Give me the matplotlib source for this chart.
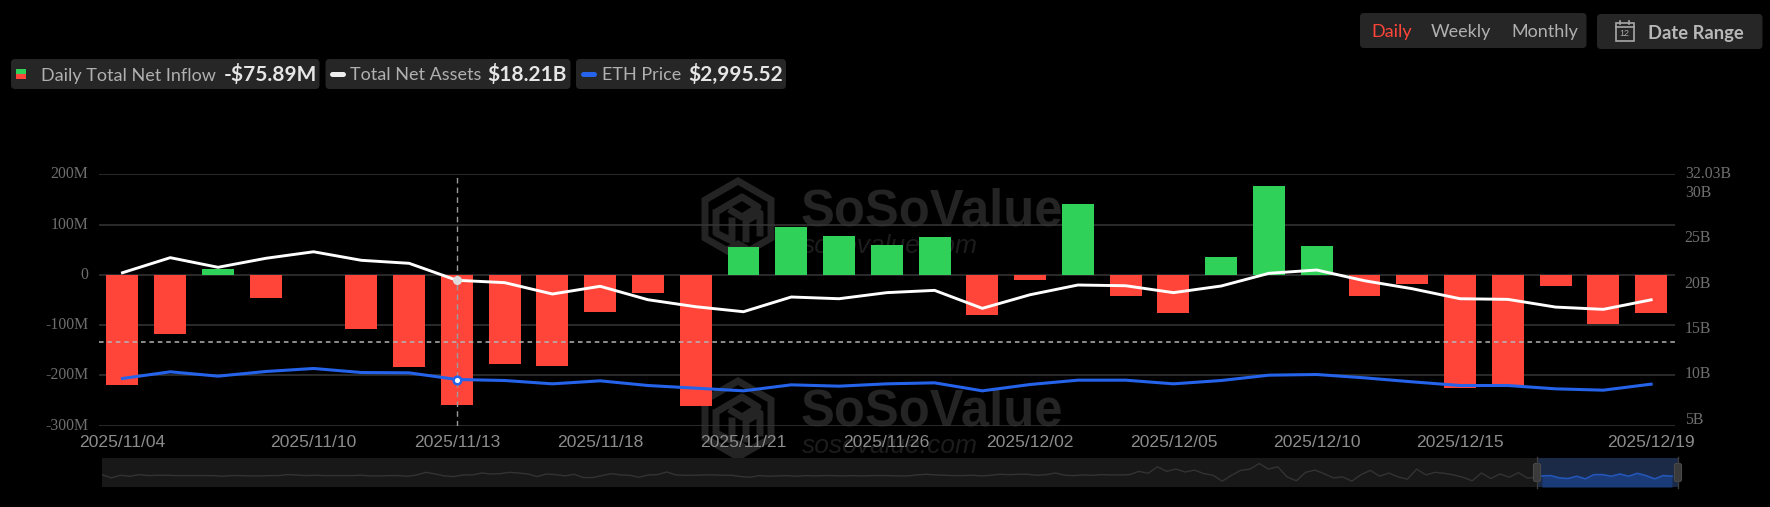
import numpy as np
import matplotlib
matplotlib.use('Agg')
import matplotlib.pyplot as plt
from matplotlib.patches import FancyBboxPatch, Polygon, Rectangle
from matplotlib.transforms import ScaledTranslation

W, H = 1770, 507

# bars in $M, one per trading day
dates = ["2025/11/04", "2025/11/05", "2025/11/06", "2025/11/07", "2025/11/10", "2025/11/11", "2025/11/12",
         "2025/11/13", "2025/11/14", "2025/11/17", "2025/11/18", "2025/11/19", "2025/11/20", "2025/11/21",
         "2025/11/24", "2025/11/25", "2025/11/26", "2025/11/28", "2025/12/01", "2025/12/02", "2025/12/03",
         "2025/12/04", "2025/12/05", "2025/12/08", "2025/12/09", "2025/12/10", "2025/12/11", "2025/12/12",
         "2025/12/15", "2025/12/16", "2025/12/17", "2025/12/18", "2025/12/19"]
net_inflow = [-219, -118, 12, -46, 0, -107, -183.5, -259, -177.6, -182, -74, -37, -261, 55.7, 96, 78, 60, 76,
              -79, -10, 140, -42, -75, 35, 177, 57, -42.4, -19, -225, -223, -22.5, -97, -75.89]
# Total Net Assets in $B
net_assets = [21.19, 22.85, 21.79, 22.78, 23.5, 22.56, 22.23, 20.36, 20.1, 18.85, 19.7, 18.22, 17.45, 16.9,
              18.52, 18.33, 19.0, 19.25, 17.27, 18.77, 19.84, 19.76, 19.0, 19.73, 21.13, 21.49, 20.31, 19.43,
              18.33, 18.26, 17.41, 17.16, 18.21]
eth_price = [3200, 3440, 3284, 3451, 3560, 3415, 3403, 3163, 3127, 3007, 3115, 2947, 2851, 2755, 2971, 2923,
             3007, 3043, 2755, 2983, 3139, 3139, 3007, 3127, 3319, 3343, 3223, 3079, 2947, 2947, 2827, 2779,
             2995.52]

left_ticks = [200, 100, 0, -100, -200, -300]
left_labels = ["200M", "100M", "0", "-100M", "-200M", "-300M"]
right_ticks = [32.03, 30, 25, 20, 15, 10, 5]
right_labels = ["32.03B", "30B", "25B", "20B", "15B", "10B", "5B"]
shown_dates = ["2025/11/04", "2025/11/10", "2025/11/13", "2025/11/18", "2025/11/21", "2025/11/26",
               "2025/12/02", "2025/12/05", "2025/12/10", "2025/12/15", "2025/12/19"]
hover_date = "2025/11/13"
hover_level = -134

# overview strip under the chart
overview_gray = [38, 28, 36, 33, 38, 35, 36, 36, 35, 35, 35, 35, 35, 33, 35, 35, 34, 34, 35, 35, 38, 37, 35, 36,
                 35, 35, 35, 35, 36, 34, 34, 35, 35, 33, 37, 45, 40, 34, 32, 37, 37, 43, 40, 41, 45, 43, 40, 32,
                 40, 38, 34, 39, 29, 29, 35, 41, 37, 36, 30, 37, 38, 46, 37, 36, 36, 37, 37, 36, 36, 32, 30, 35,
                 33, 34, 35, 33, 35, 34, 35, 35, 34, 35, 34, 35, 35, 35, 34, 34, 37, 39, 37, 36, 35, 35, 36, 34,
                 36, 39, 38, 39, 39, 36, 38, 43, 36, 35, 37, 36, 38, 37, 37, 38, 48, 42, 62, 48, 55, 46, 52, 41,
                 36, 18, 36, 51, 55, 72, 55, 62, 31, 19, 45, 52, 41, 28, 31, 18, 38, 51, 33, 43, 31, 24, 55, 37,
                 45, 42, 37, 30, 19, 43, 26, 40, 30, 44, 27, 31]
overview_blue = [34, 35, 28, 26, 33, 25, 38, 38, 33, 40, 33, 42, 35, 25, 35, 33]

# colours
BG = "#000000"
CHIP = "#262626"
RED = "#FF4539"
GREEN = "#30D158"
WHITE = "#FFFFFF"
BLUE = "#2563EB"
GRID = "#363636"
MARK = "#242424"

plt.rcParams['font.family'] = ['Lato', 'DejaVu Sans']

fig = plt.figure(figsize=(W / 100, H / 100), dpi=100, facecolor=BG)


def box(x0, y0, x1, y1):
    return [x0 / W, 1 - y1 / H, (x1 - x0) / W, (y1 - y0) / H]


# page layer in pixels for the chips, header text and watermark
page = fig.add_axes([0, 0, 1, 1], zorder=0)
page.set_xlim(0, W)
page.set_ylim(H, 0)
page.axis('off')


def chip(x0, y0, x1, y1, color=CHIP, rad=4):
    page.add_patch(FancyBboxPatch((x0 + rad, y0 + rad), x1 - x0 - 2 * rad, y1 - y0 - 2 * rad,
                                  boxstyle="round,pad=%d,rounding_size=%d" % (rad, rad), fc=color, ec='none'))


def label(x, y, s, color="#B0B0B0", size=13, weight='normal', ha='left'):
    page.text(x, y, s, color=color, fontsize=size, fontweight=weight, ha=ha, va='baseline',
              family=['Lato', 'DejaVu Sans'])


chip(11, 59, 319.5, 89)
chip(325.5, 59, 570.5, 89)
chip(576, 59, 786, 89)
chip(1360, 13, 1586.5, 48)
chip(1597, 14, 1762.5, 49)

page.add_patch(Rectangle((16.4, 69.3), 10, 4.7, fc=GREEN, ec='none'))
page.add_patch(Rectangle((16.4, 74), 10, 5, fc=RED, ec='none'))
page.plot([332, 342.5], [73.5, 73.5], color="#EEEEEE", lw=3.6, solid_capstyle='round')
page.plot([583, 593.5], [73.5, 73.5], color=BLUE, lw=3.6, solid_capstyle='round')

label(41, 80.5, "Daily Total Net Inflow")
label(223.5, 81, "-$75.89M", color="#E6E6E6", size=15, weight='bold')
label(350.5, 80.5, "Total Net Assets")
label(487.5, 81, "$18.21B", color="#E6E6E6", size=15, weight='bold')
label(601.5, 80.5, "ETH Price")
label(688.5, 81, "$2,995.52", color="#E6E6E6", size=15, weight='bold')
label(1371.5, 37.5, "Daily", color=RED)
label(1430.5, 37.5, "Weekly")
label(1511.5, 37.5, "Monthly")
label(1648, 38.5, "Date Range", weight='bold', color="#B8B8B8", size=13.2)

# calendar icon
page.add_patch(Rectangle((1615.5, 23), 18, 17.5, fc='none', ec="#A8A8A8", lw=1.2))
page.plot([1615.5, 1633.5], [27, 27], color="#A8A8A8", lw=1.2)
page.plot([1620, 1620], [20.5, 24], color="#A8A8A8", lw=1.2)
page.plot([1629, 1629], [20.5, 24], color="#A8A8A8", lw=1.2)
page.text(1624.5, 34, "12", color="#A8A8A8", fontsize=6.5, ha='center', va='center', family='Liberation Sans')


# watermark, drawn twice
def watermark(dy):
    cx, cy = 738, 219 + dy
    hexagon = [(cx, cy - 38), (cx + 33, cy - 19), (cx + 33, cy + 19), (cx, cy + 38), (cx - 33, cy + 19), (cx - 33, cy - 19)]
    page.add_patch(Polygon(hexagon, closed=True, fc='none', ec=MARK, lw=5, joinstyle='miter'))
    page.add_patch(Polygon([(cx - 18, cy + 31), (cx, cy + 41), (cx + 18, cy + 31), (cx, cy + 21)], fc=MARK, ec='none'))
    page.plot([cx - 20, cx + 4, cx + 20, cx + 4, cx - 6], [cy - 8, cy - 22, cy - 12, cy - 2, cy - 8], color=MARK, lw=5)
    page.plot([cx - 22, cx - 22, cx - 6, cx - 6], [cy - 6, cy + 14, cy + 22, cy + 2], color=MARK, lw=5)
    page.plot([cx + 8, cx + 8, cx + 22, cx + 22], [cy + 20, cy + 2, cy - 6, cy + 14], color=MARK, lw=5)
    page.text(801, 225 + dy, "SoSoValue", color=MARK, fontsize=36.5, fontweight='bold', ha='left', va='baseline',
              family='Liberation Sans')
    page.text(802, 253 + dy, "sosovalue.com", color="#1C1C1C", fontsize=19, style='italic', ha='left', va='baseline',
              family='Liberation Sans')


watermark(0)
watermark(200)

# main chart
ax = fig.add_axes(box(98.6, 174.3, 1675, 425.7), zorder=1)
ax.patch.set_alpha(0)
x = np.arange(len(dates))
bar_colors = [GREEN if v > 0 else RED for v in net_inflow]
ax.bar(x, net_inflow, width=32 / 47.8, color=bar_colors, zorder=2)
ax.set_xlim(-0.5, len(dates) - 0.5)
ax.set_ylim(-300, 200)
ax.set_yticks(left_ticks)
ax.set_yticklabels(left_labels, family='Liberation Serif', fontsize=11.3, color="#6E6E6E")
ax.set_xticks([dates.index(d) for d in shown_dates])
ax.set_xticklabels(shown_dates, family='Liberation Sans', fontsize=12.6, color="#8C8C8C")
ax.tick_params(axis='y', length=0, pad=7.5)
ax.tick_params(axis='x', length=0, pad=6.5)
ax.grid(axis='y', color=GRID, lw=1.1)
ax.set_axisbelow(True)
for s in ax.spines.values():
    s.set_visible(False)

ax_assets = ax.twinx()
ax_assets.set_zorder(2)
ax_assets.patch.set_alpha(0)
ax_assets.set_ylim(4.35, 32.03)
ax_assets.set_yticks(right_ticks)
ax_assets.set_yticklabels(right_labels, family='Liberation Serif', fontsize=11.3, color="#6E6E6E")
ax_assets.tick_params(axis='y', length=0, pad=7)
ax_assets.plot(x, net_assets, color=WHITE, lw=2.1, solid_joinstyle='round')
for s in ax_assets.spines.values():
    s.set_visible(False)

# nudge the value labels up a little, they sit above their grid lines
nudge = ScaledTranslation(0, 2 / 100, fig.dpi_scale_trans)
for t in ax.get_yticklabels() + ax_assets.get_yticklabels():
    t.set_transform(t.get_transform() + nudge)

# third scale for ETH, no axis drawn in the original
ax_eth = ax.twinx()
ax_eth.set_zorder(3)
ax_eth.patch.set_alpha(0)
ax_eth.set_ylim(1500, 10550)
ax_eth.axis('off')
ax_eth.plot(x, eth_price, color=BLUE, lw=2.2, solid_joinstyle='round')

# hover crosshair
i = dates.index(hover_date)
ax.axvline(i, color="#9A9A9A", lw=1, dashes=(4, 3), zorder=5)
ax.axhline(hover_level, color="#B4B4B4", lw=1.1, dashes=(3, 2.5), zorder=5)
ax_assets.plot([i], [net_assets[i]], 'o', ms=5.5, mfc="#DDDDDD", mec="#DDDDDD", zorder=6)
ax_eth.plot([i], [eth_price[i]], 'o', ms=5.5, mfc=WHITE, mec=BLUE, mew=1.8, zorder=6)

# overview strip
strip = fig.add_axes(box(102, 458, 1678, 487), zorder=2, facecolor="#181818")
strip.set_xlim(102, 1678)
strip.set_ylim(0, 89)
strip.set_xticks([])
strip.set_yticks([])
for s in strip.spines.values():
    s.set_visible(False)
strip.axvspan(1537, 1678, color="#1A2A47", lw=0)
strip.plot(np.linspace(102, 1537, len(overview_gray)), overview_gray, color="#333333", lw=1)
blue_x = np.linspace(1542, 1672, len(overview_blue))
strip.fill_between(blue_x, 0, overview_blue, color="#1A3A78", lw=0)
strip.plot(blue_x, overview_blue, color="#2456B8", lw=1.2)

handles = fig.add_axes([0, 0, 1, 1], zorder=3)
handles.set_xlim(0, W)
handles.set_ylim(H, 0)
handles.axis('off')
for hx in (1537, 1678):
    handles.plot([hx, hx], [457, 488], color="#3D3D3D", lw=1)
    handles.add_patch(FancyBboxPatch((hx - 2, 465), 4, 15, boxstyle="round,pad=1.5,rounding_size=2", fc="#3A3A3A", ec="#4A4A4A", lw=0.8))

fig.savefig("out.png", dpi=100, facecolor=BG)
